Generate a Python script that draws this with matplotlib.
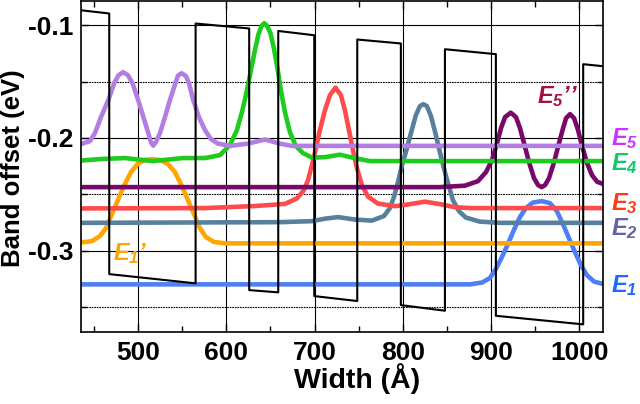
import matplotlib
matplotlib.use("Agg")
import matplotlib.pyplot as plt

plt.rcParams['font.family'] = ['Liberation Sans', 'DejaVu Sans']
plt.rcParams['mathtext.fontset'] = 'custom'
plt.rcParams['mathtext.rm'] = 'Liberation Sans:bold:italic'
plt.rcParams['mathtext.it'] = 'Liberation Sans:bold:italic'
plt.rcParams['mathtext.bf'] = 'Liberation Sans:bold:italic'

# conduction band edge (sawtooth)
band_x = [435, 467.4, 467.4, 565.2, 565.2, 625.9, 625.9, 658.8, 658.8, 699.6, 699.6,
          748.3, 748.3, 797.7, 797.7, 847.6, 847.6, 905.3, 905.3, 1004.2, 1004.2, 1027]
band_y = [-0.0867, -0.0896, -0.3209, -0.3291, -0.0985, -0.1029, -0.3351, -0.3371,
          -0.1051, -0.1089, -0.3404, -0.3448, -0.1127, -0.1162, -0.3484, -0.3534,
          -0.1213, -0.1257, -0.3579, -0.3655, -0.1346, -0.1364]

# wavefunctions offset by their energy levels
e1_x = [435, 875.9, 889.5, 898.5, 905.3, 912.1, 918.9, 925.7, 932.5, 939.3, 947.2, 957.1,
        966.5, 974.4, 981.2, 988.0, 994.8, 1001.6, 1008.4, 1016.4, 1027]
e1_y = [-0.3300, -0.3300, -0.3284, -0.3244, -0.3164, -0.3058, -0.2943, -0.2818, -0.2703,
        -0.2623, -0.2574, -0.2561, -0.2579, -0.2650, -0.2765, -0.2889, -0.3013, -0.3129,
        -0.3218, -0.3275, -0.3297]

e1p_x = [435, 447.8, 456.9, 463.7, 470.5, 477.2, 484.0, 492.0, 499.9, 509.0, 517.2, 525.9,
         533.9, 541.8, 549.7, 556.5, 563.3, 570.1, 576.9, 586.0, 599.6, 1027]
e1p_y = [-0.2929, -0.2916, -0.2871, -0.2801, -0.2676, -0.2552, -0.2428, -0.2304, -0.2228,
         -0.2193, -0.2189, -0.2197, -0.2233, -0.2304, -0.2428, -0.2552, -0.2676, -0.2801,
         -0.2880, -0.2924, -0.2936, -0.2936]

e2_x = [435, 660.7, 697.0, 711.7, 726.4, 745.7, 764.9, 778.5, 785.3, 789.8, 794.4, 798.9,
        804.0, 809.1, 814.7, 819.3, 823.2, 827.2, 831.8, 836.8, 841.9, 846.4, 851.0, 856.6,
        863.4, 871.3, 887.2, 909.8, 1027]
e2_y = [-0.2754, -0.2748, -0.2739, -0.2717, -0.2703, -0.2725, -0.2734, -0.2694, -0.2623,
        -0.2526, -0.2393, -0.2242, -0.2109, -0.1958, -0.1798, -0.1718, -0.1701, -0.1718,
        -0.1807, -0.1958, -0.2127, -0.2268, -0.2401, -0.2552, -0.2650, -0.2707, -0.2743,
        -0.2754, -0.2754]

e3_x = [435, 575.8, 632.4, 666.4, 680.0, 687.9, 692.5, 697.0, 701.5, 706.0, 711.7, 717.3,
        723.6, 729.8, 734.3, 738.9, 743.4, 747.9, 753.6, 760.4, 771.7, 791.0, 808.0, 825.0,
        842.0, 859.0, 875.9, 1027]
e3_y = [-0.2626, -0.2623, -0.2605, -0.2586, -0.2537, -0.2464, -0.2375, -0.2242, -0.2091,
        -0.1931, -0.1754, -0.1621, -0.1554, -0.1621, -0.1754, -0.1931, -0.2109, -0.2268,
        -0.2419, -0.2521, -0.2583, -0.2606, -0.2588, -0.2566, -0.2588, -0.2615, -0.2623,
        -0.2623]

e5pp_x = [435, 842, 870.3, 885.0, 894.1, 900.9, 906.6, 911.1, 915.7, 922.1, 928.1, 932.6,
          937.2, 942.8, 948.5, 953.1, 957.1, 961.0, 965.5, 971.2, 976.8, 981.4, 984.8,
          989.3, 993.8, 998.4, 1002.9, 1008.6, 1014.2, 1019.9, 1027]
e5pp_y = [-0.2437, -0.2437, -0.2424, -0.2384, -0.2304, -0.2197, -0.2047, -0.1914, -0.1816,
          -0.1776, -0.1816, -0.1914, -0.2047, -0.2215, -0.2357, -0.2419, -0.2437, -0.2419,
          -0.2357, -0.2215, -0.2047, -0.1914, -0.1825, -0.1789, -0.1825, -0.1931, -0.2073,
          -0.2224, -0.2331, -0.2389, -0.2410]

e4_x = [435, 456.9, 485.2, 516.9, 550.9, 575.8, 592.8, 604.1, 612.0, 617.7, 622.2, 627.9,
        632.4, 636.4, 639.8, 642.9, 646.0, 650.0, 653.9, 657.9, 661.8, 666.4, 672.0, 678.8,
        686.8, 697.0, 711.7, 728.7, 745.7, 762.7, 1027]
e4_y = [-0.2201, -0.2188, -0.2179, -0.2206, -0.2179, -0.2179, -0.2153, -0.2064, -0.1931,
        -0.1772, -0.1621, -0.1399, -0.1222, -0.1080, -0.1009, -0.0982, -0.1004, -0.1071,
        -0.1204, -0.1381, -0.1577, -0.1772, -0.1949, -0.2073, -0.2135, -0.2175, -0.2171,
        -0.2149, -0.2180, -0.2206, -0.2206]

e5_x = [435, 445.5, 451.2, 458.0, 466.3, 473.1, 477.8, 483.2, 488.6, 493.7, 500.2, 506.1,
        511.6, 514.6, 517.2, 520.2, 524.8, 530.5, 536.1, 542.4, 545.2, 549.4, 554.3, 557.7,
        562.5, 569.0, 575.8, 582.6, 590.5, 604.1, 624.5, 643.8, 660.7, 674.3, 1027]
e5_y = [-0.2056, -0.2029, -0.1958, -0.1816, -0.1665, -0.1514, -0.1444, -0.1417, -0.1444,
        -0.1514, -0.1665, -0.1816, -0.1958, -0.2038, -0.2069, -0.2038, -0.1958, -0.1816,
        -0.1665, -0.1514, -0.1448, -0.1426, -0.1452, -0.1514, -0.1665, -0.1816, -0.1931,
        -0.2011, -0.2051, -0.2071, -0.2051, -0.2014, -0.2051, -0.2071, -0.2071]

fig = plt.figure(figsize=(6.4, 4.04), dpi=100)
ax = fig.add_axes([0.126, 0.179, 0.8167, 0.818])

lw = 3.3
ax.plot(e1_x, e1_y, color='#4d7ff5', lw=lw, solid_capstyle='butt')
ax.plot(e1p_x, e1p_y, color='#ffa500', lw=lw, solid_capstyle='butt')
ax.plot(e2_x, e2_y, color='#58809c', lw=lw, solid_capstyle='butt')
ax.plot(e3_x, e3_y, color='#ff4b4b', lw=lw, solid_capstyle='butt')
ax.plot(e5pp_x, e5pp_y, color='#78086c', lw=lw, solid_capstyle='butt')
ax.plot(e4_x, e4_y, color='#1ecc1e', lw=lw, solid_capstyle='butt')
ax.plot(e5_x, e5_y, color='#b27ee2', lw=lw, solid_capstyle='butt')
ax.plot(band_x, band_y, color='black', lw=1.5)

ax.set_xlim(435, 1027)
ax.set_ylim(-0.372, -0.0787)
ax.set_xticks([500, 600, 700, 800, 900, 1000])
ax.set_xticks([450, 550, 650, 750, 850, 950], minor=True)
ax.set_yticks([-0.3, -0.2, -0.1])
ax.set_yticks([-0.35, -0.25, -0.15], minor=True)
ax.set_yticklabels(['-0.3', '-0.2', '-0.1'])
ax.grid(True, which='major', color='black', lw=0.8)
ax.grid(True, which='minor', axis='y', color='black', lw=0.8, linestyle=(0, (1.5, 0.8)))
ax.set_axisbelow(True)
ax.tick_params(which='both', direction='in', top=True, right=True, width=1.0,
               labelsize=19)
ax.tick_params(axis='y', pad=5)
ax.tick_params(axis='x', pad=7)
ax.tick_params(which='major', length=6)
ax.tick_params(which='minor', length=4)
for t in ax.get_xticklabels() + ax.get_yticklabels():
    t.set_fontweight('bold')
for s in ax.spines.values():
    s.set_linewidth(1.2)

ax.set_xlabel('Width (Å)', fontsize=20.5, fontweight='bold')
ax.xaxis.set_label_coords(0.528, -0.095)
ax.set_ylabel('Band offset (eV)', fontsize=18.5, fontweight='bold')
ax.yaxis.set_label_coords(-0.107, 0.495)

lab = dict(fontsize=17, fontstyle='italic', fontweight='bold', clip_on=False)
ax.text(1036, -0.2064, r'$E_5$', color='#cc33ff', **lab)
ax.text(1036, -0.2286, r'$E_4$', color='#11c86a', **lab)
ax.text(1036, -0.2641, r'$E_3$', color='#ff3a14', **lab)
ax.text(1036, -0.2863, r'$E_2$', color='#6464a4', **lab)
ax.text(1036, -0.3368, r'$E_1$', color='#1f68ff', **lab)
ax.text(951.8, -0.1692, r'$E_5$’’', color='#a3123e', **lab)
ax.text(471.6, -0.3084, r'$E_1$’', color='#ffa500', **lab)

fig.savefig('out.png', dpi=100)
